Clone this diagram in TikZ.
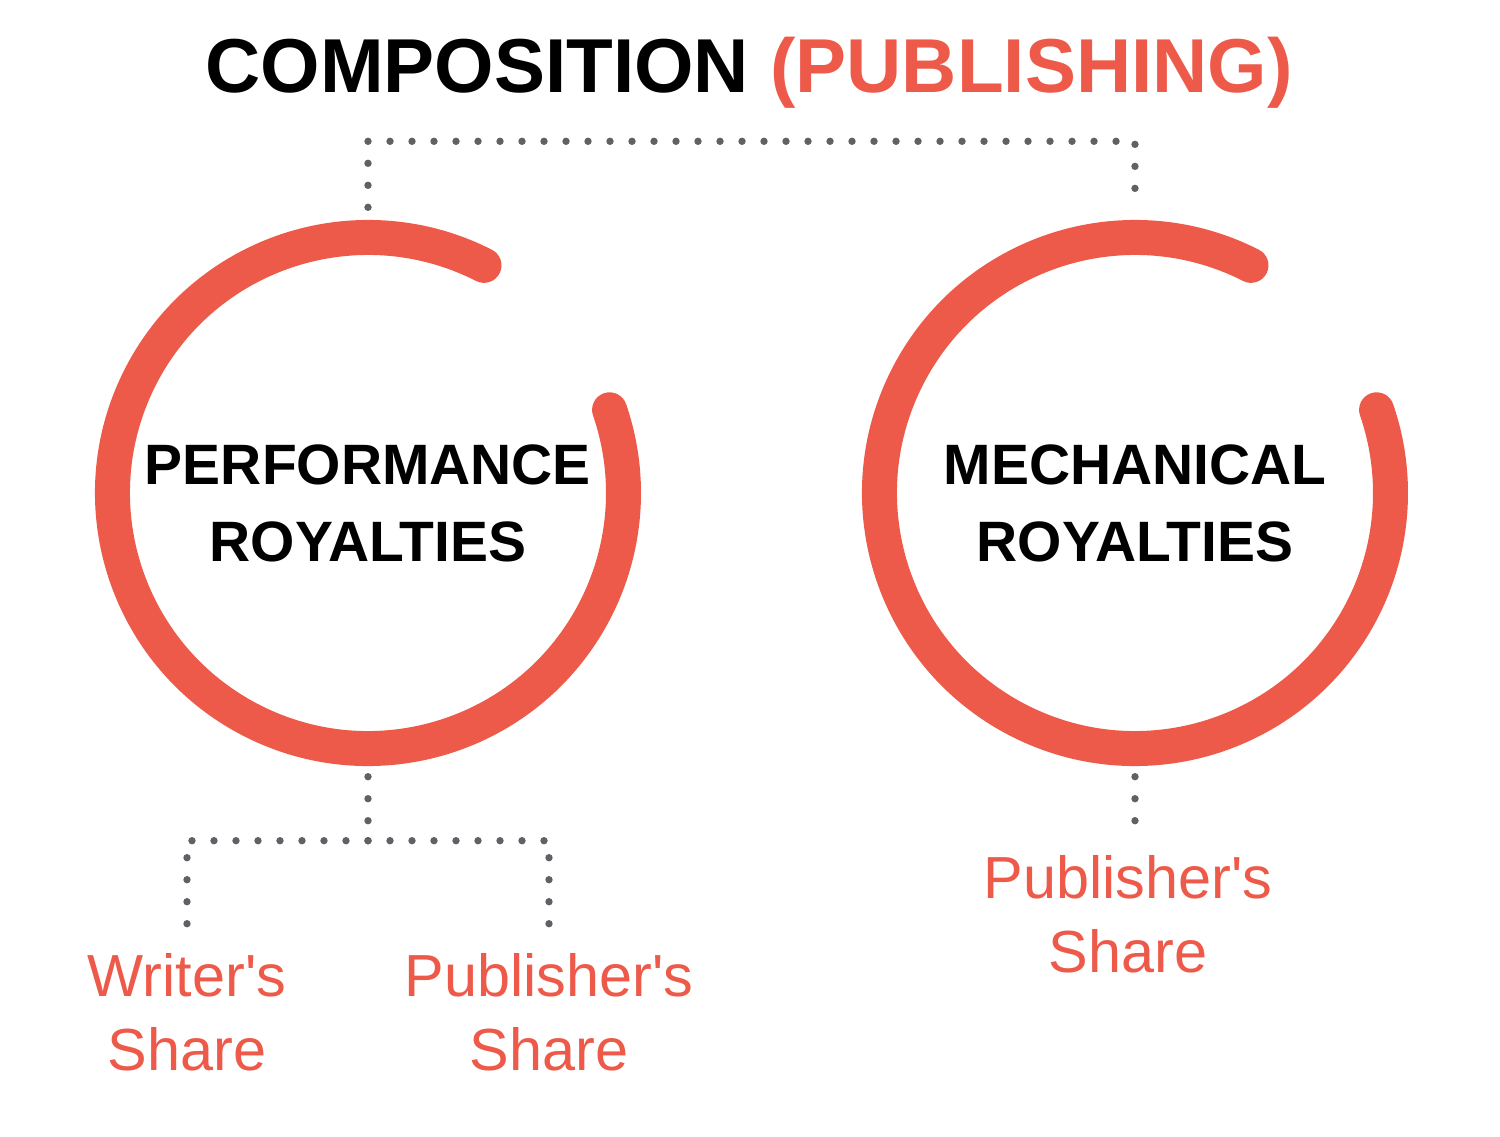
\documentclass[tikz,border=0pt]{standalone}
\usepackage{fontspec}
\setmainfont{Liberation Sans}
\usepackage{xcolor}
\usetikzlibrary{positioning}

\definecolor{coral}{RGB}{238,90,74}
\definecolor{dotgray}{RGB}{95,97,102}

\begin{document}
\begin{tikzpicture}[
    ring/.style={circle, minimum size=5.46cm, inner sep=0pt},
    arcline/.style={coral, line width=3.5mm, line cap=round},
    big/.style={font=\fontsize{16.2}{21.9}\selectfont\bfseries, align=center},
    share/.style={coral, font=\fontsize{16.9}{20.8}\selectfont, align=center, anchor=base, inner sep=0pt},
    link/.style={dotgray, line width=2.1pt, line cap=round, dash pattern=on 0pt off 6.26pt}]
    \useasboundingbox (0,0) rectangle (15,11.36);
    \node [font=\fontsize{21.75}{25}\selectfont\bfseries, anchor=base, inner sep=0pt] (title) at (7.49,10.44)
      {COMPOSITION \textcolor{coral}{(PUBLISHING)}};
    \node [ring] (perf) at (3.68,6.43) {};
    \node [ring] (mech) at (11.35,6.43) {};
    \draw [arcline] (perf.center) ++(63:2.555) arc [start angle=63, end angle=379, radius=2.555];
    \draw [arcline] (mech.center) ++(63:2.555) arc [start angle=63, end angle=379, radius=2.555];
    \node [big] (perftext) at ([yshift=-1mm]perf.center) {PERFORMANCE\\ROYALTIES};
    \node [big] (mechtext) at ([yshift=-1mm]mech.center) {MECHANICAL\\ROYALTIES};
    \node [share] (writer) at (1.87,0.66) {Writer\textquotesingle s\\Share};
    \node [share] (lpub) at (5.49,0.66) {Publisher\textquotesingle s\\Share};
    \node [share] (rpub) at (11.28,1.64) {Publisher\textquotesingle s\\Share};
    \draw [link] ([yshift=1.2mm]perf.north) -- ++(0,0.66) -| ([yshift=1.2mm]mech.north);
    \draw [link] ([yshift=-1mm]perf.south) -- ++(0,-0.64) coordinate (fork);
    \draw [link] (fork) -| ([yshift=2.5mm]writer.north);
    \draw [link] (fork) -| ([yshift=2.5mm]lpub.north);
    \draw [link] ([yshift=-1mm]mech.south) -- ([yshift=3.3mm]mech.south |- rpub.north);
\end{tikzpicture}
\end{document}
